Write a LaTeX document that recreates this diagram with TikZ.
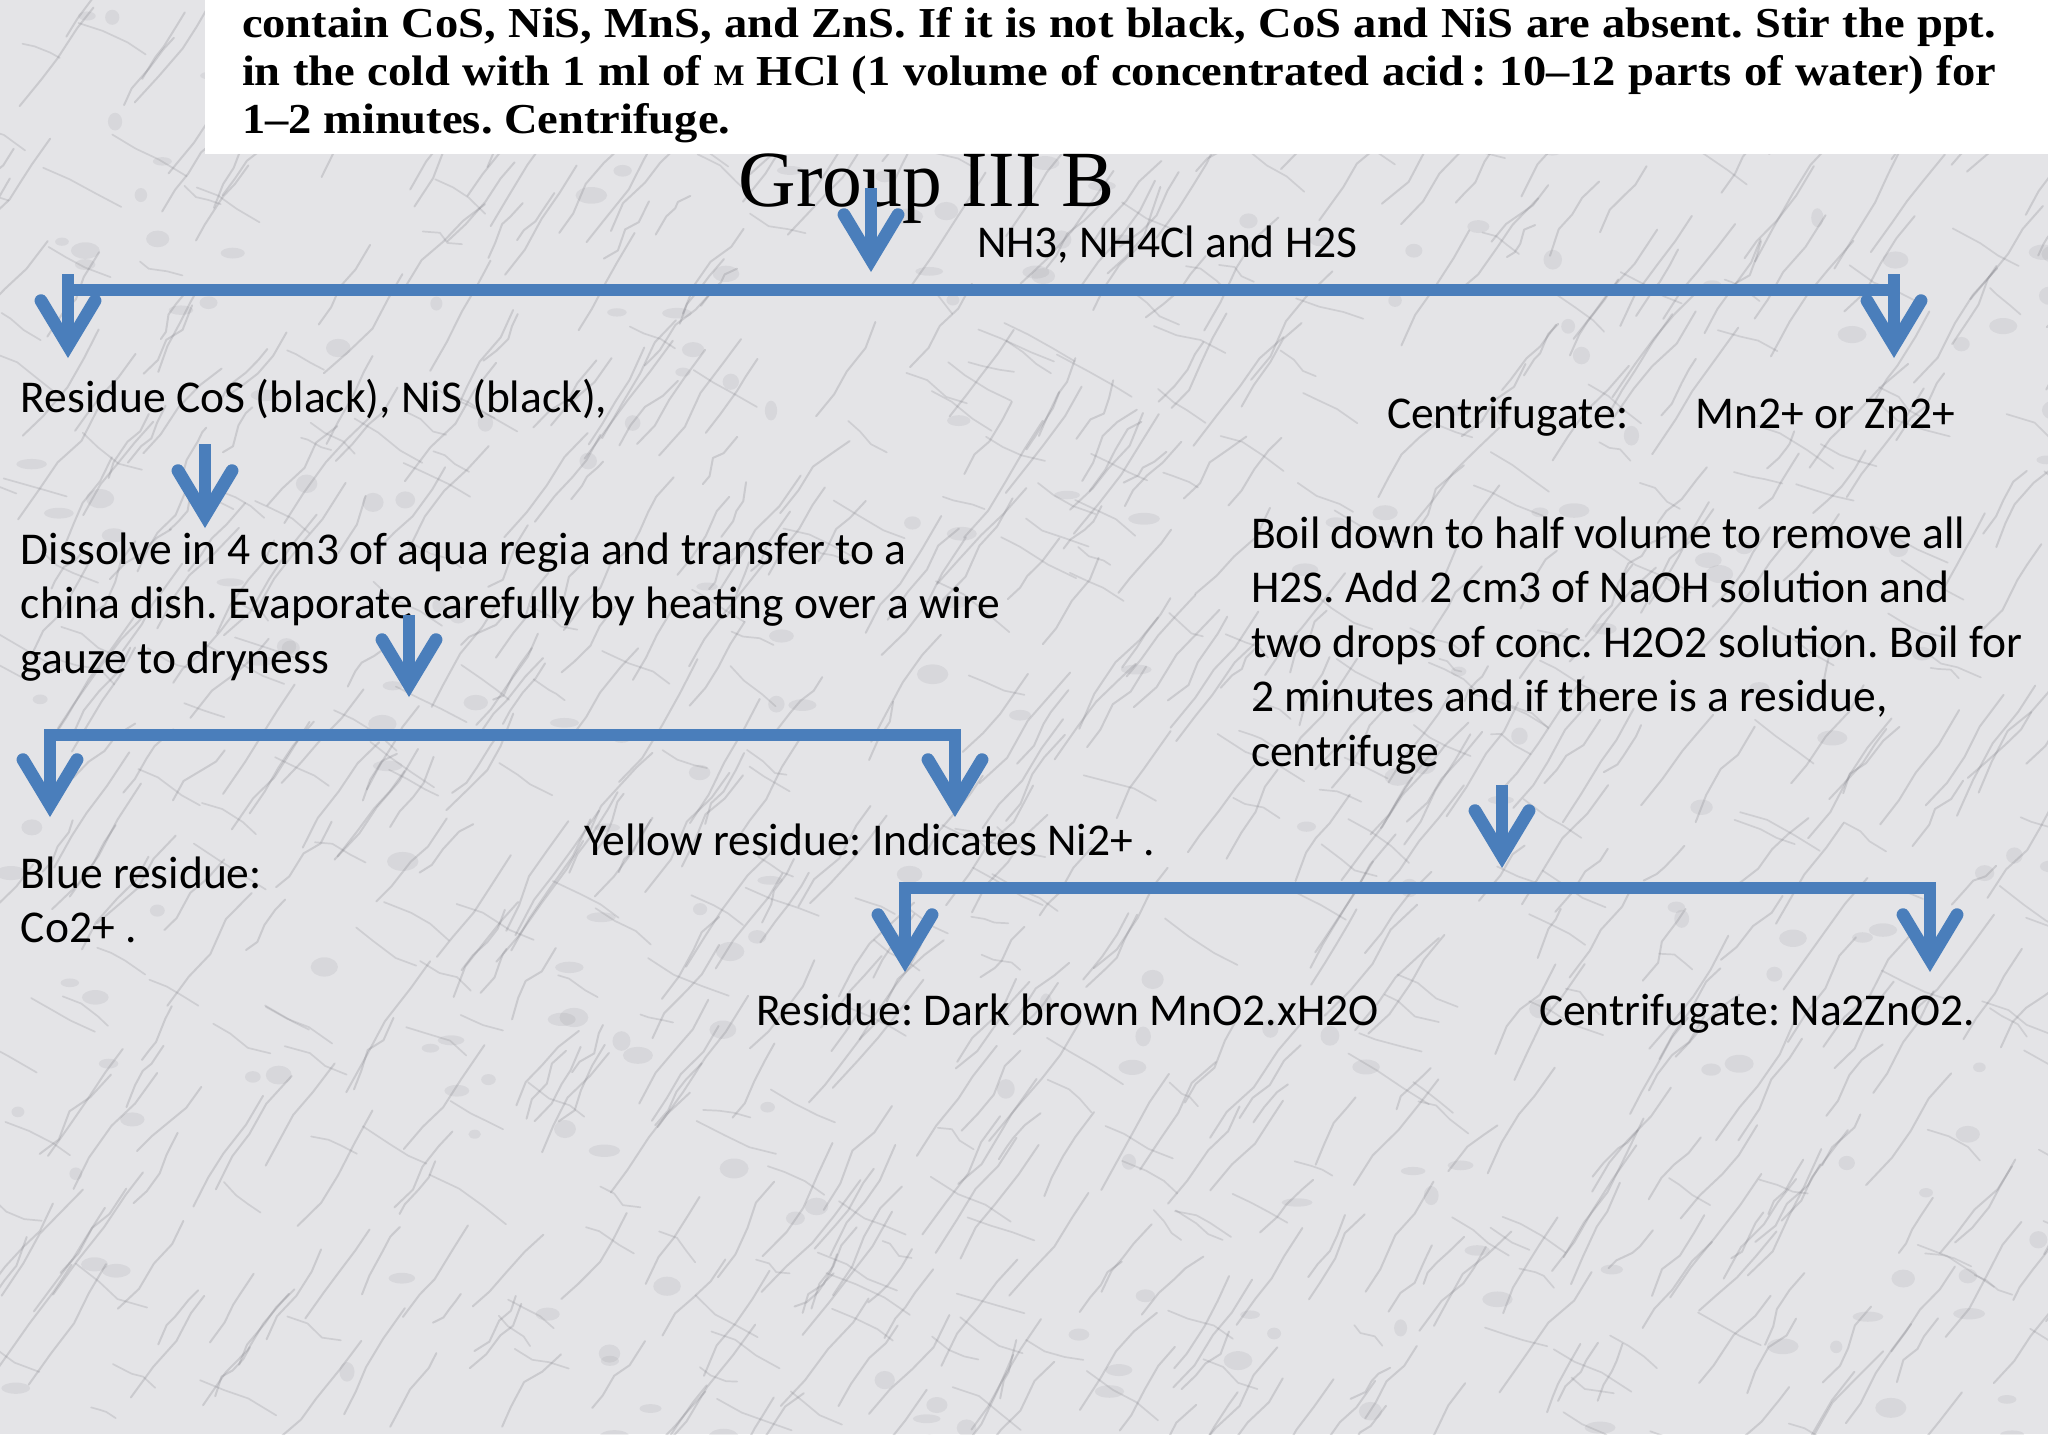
\documentclass[tikz,border=0pt]{standalone}
\usepackage{fontspec}
\setmainfont{Carlito}
\newfontfamily\titlefont{Liberation Serif}
\newfontfamily\bookfont{Liberation Serif}[FakeStretch=1.09]
\usetikzlibrary{arrows.meta}
\definecolor{arrowblue}{RGB}{74,126,187}
\definecolor{marble}{RGB}{228,228,231}
\definecolor{vein}{RGB}{110,110,118}
\frenchspacing
\begin{document}
\begin{tikzpicture}[x=0.3515625pt, y=-0.3515625pt,
  flow/.style={draw=arrowblue, line width=4.2pt},
  darrow/.style={draw=arrowblue, line width=4.5pt,
    -{Straight Barb[length=15.8pt, width=19pt, line cap=round, line join=miter]}},
  lbl/.style={inner sep=0pt, outer sep=0pt, anchor=base west, align=left,
    font=\fontsize{16}{19.16}\selectfont},
  booktxt/.style={inner sep=0pt, outer sep=0pt, anchor=base west, align=left,
    font=\bookfont\bfseries\fontsize{15}{16.875}\selectfont},
]
% background (marble)
\useasboundingbox (0,0) rectangle (2048,1434);
\fill[marble] (0,0) rectangle (2048,1434);
\begin{scope}
  \clip (0,0) rectangle (2048,1434);
  \pgfmathsetseed{11}
  \foreach \i in {1,...,700}{
    \pgfmathsetmacro{\xa}{rnd*2150-50}
    \pgfmathsetmacro{\ya}{rnd*1550-50}
    \pgfmathsetmacro{\s}{8+rnd*14}
    \draw[vein, line width=0.7pt, opacity=0.22, line cap=round, line join=round]
      (\xa,\ya) -- ++(\s+rand*6, -\s*1.4+rand*8) -- ++(\s+rand*6, -\s*1.4+rand*8)
      -- ++(\s+rand*6, -\s*1.4+rand*8) -- ++(\s+rand*6, -\s*1.4+rand*8);
  }
  \foreach \i in {1,...,350}{
    \pgfmathsetmacro{\xa}{rnd*2150-50}
    \pgfmathsetmacro{\ya}{rnd*1550-50}
    \pgfmathsetmacro{\s}{8+rnd*12}
    \draw[vein, line width=0.6pt, opacity=0.18, line cap=round, line join=round]
      (\xa,\ya) -- ++(\s*1.3+rand*6, \s*0.7+rand*6) -- ++(\s*1.3+rand*6, \s*0.7+rand*6)
      -- ++(\s*1.3+rand*6, \s*0.7+rand*6);
  }
  \foreach \i in {1,...,260}{
    \pgfmathsetmacro{\xa}{rnd*2100}
    \pgfmathsetmacro{\ya}{rnd*1480}
    \fill[vein, opacity=0.10] (\xa,\ya) ellipse ({6+rnd*10} and {4+rnd*6});
  }
\end{scope}

% scanned book text box
\fill[white] (205,0) rectangle (2048,154);
\node[booktxt] (book) at (242,133)
  {\makebox[616.7pt][s]{contain CoS, NiS, MnS, and ZnS. If it is not black, CoS and NiS are absent. Stir the ppt.}\\
   \makebox[616.7pt][s]{in the cold with 1 ml of {\fontsize{10.5}{10.5}\selectfont M} HCl (1 volume of concentrated acid\,: 10–12 parts of water) for}\\
   1–2 minutes. Centrifuge.};

% title and texts
\node[inner sep=0pt, anchor=base west, font=\titlefont\fontsize{28}{33}\selectfont] (title) at (738,206) {Group III B};
\node[lbl] (reag) at (977,257) {NH3, NH4Cl and H2S};
\node[lbl] (res1) at (21,412) {Residue CoS (black), NiS (black),};
\node[lbl] (cent1) at (1387,428) {Centrifugate:\hspace{23.7pt}Mn2+ or Zn2+};
\node[lbl] (diss) at (21,673) {Dissolve in 4 cm3 of aqua regia and transfer to a\\china dish. Evaporate carefully by heating over a wire\\gauze to dryness};
\node[lbl] (boil) at (1251,766) {Boil down to half volume to remove all\\H2S. Add 2 cm3 of NaOH solution and\\two drops of conc. H2O2 solution. Boil for\\2 minutes and if there is a residue,\\centrifuge};
\node[lbl] (blue) at (21,942.5) {Blue residue:\\Co2+ .};
\node[lbl] (yell) at (584,855) {Yellow residue: Indicates Ni2+ .};
\node[lbl] (mno) at (756,1025) {Residue: Dark brown MnO2.xH2O};
\node[lbl] (zn) at (1539,1025) {Centrifugate: Na2ZnO2.};

% connector coordinates
\coordinate (a1s) at (871,188);  \coordinate (a1e) at (871,272);
\coordinate (b1l) at (68,290);   \coordinate (b1r) at (1894,290);
\coordinate (a2ls) at (68,274);  \coordinate (a2le) at (68,358);
\coordinate (a2rs) at (1894,274);\coordinate (a2re) at (1894,358);
\coordinate (a3s) at (205,444);  \coordinate (a3e) at (205,528);
\coordinate (a4s) at (409,615);  \coordinate (a4e) at (409,697);
\coordinate (b2l) at (50,735);   \coordinate (b2r) at (955,735);
\coordinate (a5ls) at (50,729);  \coordinate (a5le) at (50,817);
\coordinate (a5rs) at (955,729); \coordinate (a5re) at (955,817);
\coordinate (a6s) at (1502,785); \coordinate (a6e) at (1502,868);
\coordinate (b3l) at (905,888);  \coordinate (b3r) at (1930,888);
\coordinate (a7ls) at (905,882); \coordinate (a7le) at (905,972);
\coordinate (a7rs) at (1930,882);\coordinate (a7re) at (1930,972);

% connectors
\draw[flow] (b1l) -- (b1r);
\draw[flow] (b2l) -- (b2r);
\draw[flow] (b3l) -- (b3r);
\draw[darrow] (a1s) -- (a1e);
\draw[darrow] (a2ls) -- (a2le);
\draw[darrow] (a2rs) -- (a2re);
\draw[darrow] (a3s) -- (a3e);
\draw[darrow] (a4s) -- (a4e);
\draw[darrow] (a5ls) -- (a5le);
\draw[darrow] (a5rs) -- (a5re);
\draw[darrow] (a6s) -- (a6e);
\draw[darrow] (a7ls) -- (a7le);
\draw[darrow] (a7rs) -- (a7re);
\end{tikzpicture}
\end{document}
